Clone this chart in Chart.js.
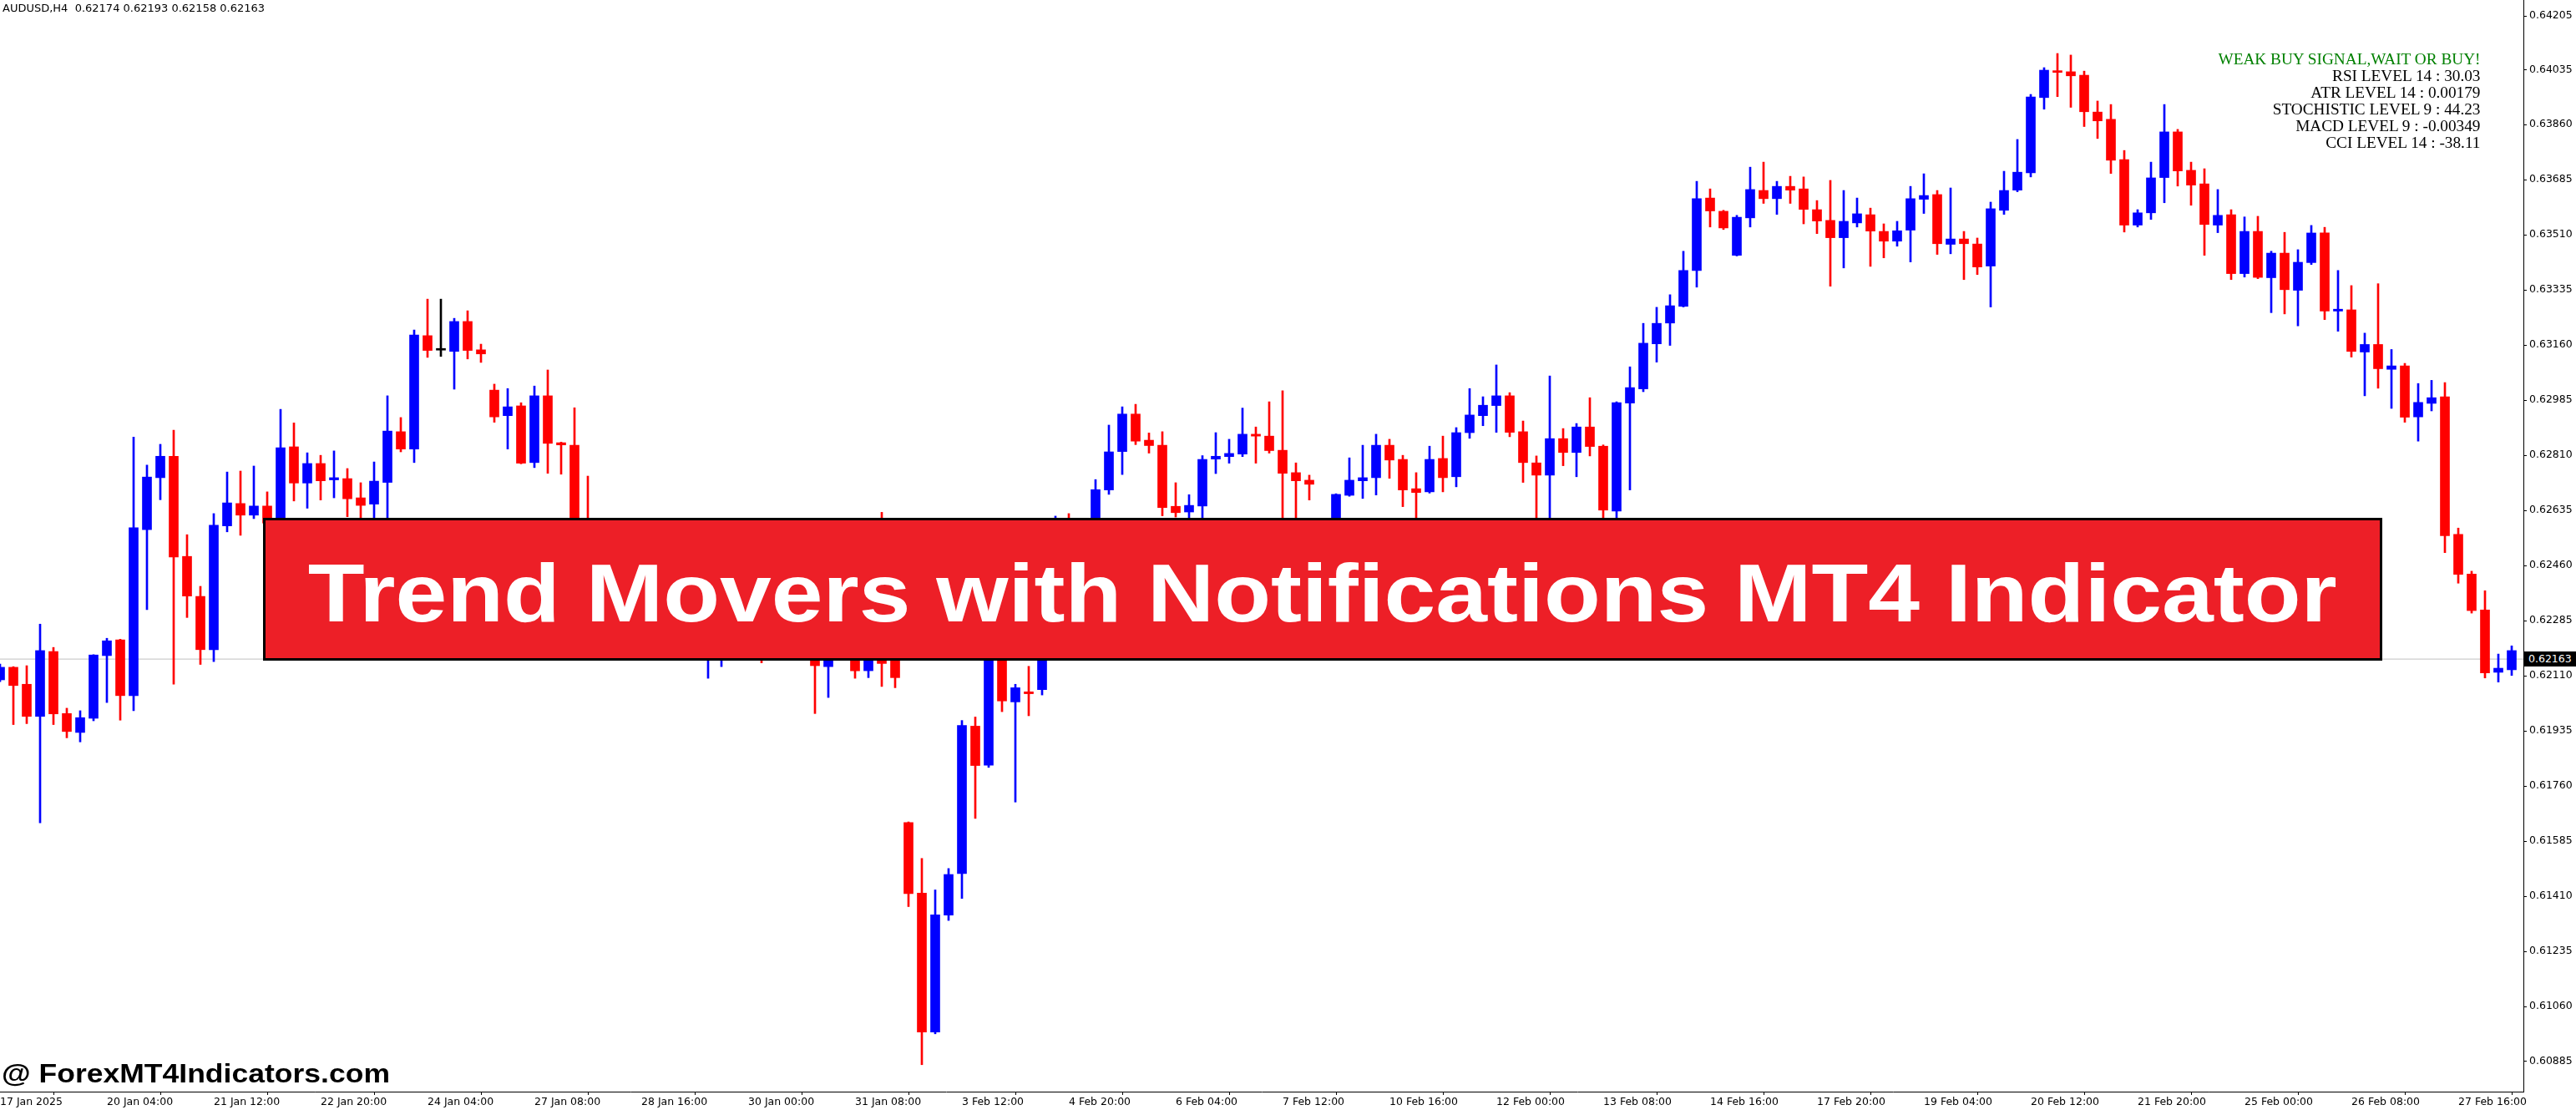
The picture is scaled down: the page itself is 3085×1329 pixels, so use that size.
<!DOCTYPE html>
<html>
<head>
<meta charset="utf-8">
<script src="https://cdn.jsdelivr.net/npm/chart.js@4.4.1/dist/chart.umd.min.js"></script>
<style>
html,body{margin:0;padding:0;background:#fff;overflow:hidden}
#wrap{position:relative;width:3085px;height:1329px;background:#fff}
#c{position:absolute;left:0;top:0}
#hdr{position:absolute;left:3px;top:2px;font:13px "DejaVu Sans";color:#000;white-space:pre;line-height:16px}
#ind{position:absolute;right:115px;top:61px;text-align:right;font-family:"Liberation Serif";font-size:18px;line-height:20px;color:#000;transform:scaleX(1.07);transform-origin:right top;white-space:pre}
#ind .g{color:#008000}
#banner{position:absolute;left:315px;top:620px;width:2538px;height:171px;box-sizing:border-box;border:3px solid #000;background:#ED1F27}
#btxt{position:absolute;left:315px;top:661px;width:2538px;text-align:center;line-height:98px;height:98px}
#btxt span{display:inline-block;font-family:"Liberation Sans";font-weight:bold;font-size:98px;color:#fff;white-space:pre;transform-origin:center center}
#wm{position:absolute;left:2px;top:1266px;line-height:40px;height:40px}
#wm span{display:inline-block;font-family:"Liberation Sans";font-weight:bold;font-size:31px;color:#000;white-space:pre;transform-origin:left center}
#pbox{position:absolute;left:3023px;width:62px;height:18px;background:#000;color:#fff;font:12.5px "DejaVu Sans";line-height:18px;padding-left:5px;box-sizing:border-box}
</style>
</head>
<body>
<div id="wrap">
<canvas id="c" width="3085" height="1329"></canvas>
<div id="hdr">AUDUSD,H4  0.62174 0.62193 0.62158 0.62163</div>
<div id="ind"><div class="g">WEAK BUY SIGNAL,WAIT OR BUY!</div><div>RSI LEVEL 14 : 30.03</div><div>ATR LEVEL 14 : 0.00179</div><div>STOCHISTIC LEVEL 9 : 44.23</div><div>MACD LEVEL 9 : -0.00349</div><div>CCI LEVEL 14 : -38.11</div></div>
<div id="banner"></div>
<div id="btxt"><span>Trend Movers with Notifications MT4 Indicator</span></div>
<div id="wm"><span>@ ForexMT4Indicators.com</span></div>
<div id="pbox">0.62163</div>
</div>
<script>
// ---- data (AUDUSD H4, one entry per bar) ----
const opens = [0.62097,0.62137,0.62083,0.61981,0.62187,0.61990,0.61930,0.61975,0.62174,0.62224,
0.62047,0.62574,0.62739,0.62807,0.62489,0.62362,0.62193,0.62586,0.62657,0.62620,
0.62649,0.62595,0.62837,0.62722,0.62784,0.62732,0.62736,0.62675,0.62655,0.62724,
0.62885,0.62830,0.63190,0.63144,0.63140,0.63235,0.63145,0.63017,0.62936,0.62967,
0.62787,0.62999,0.62850,0.62842,0.62520,0.62450,0.62500,0.62410,0.62340,0.62400,
0.62290,0.62330,0.62270,0.62220,0.62260,0.62350,0.62420,0.62380,0.62230,0.62300,
0.62370,0.62290,0.62139,0.62250,0.62380,0.62126,0.62260,0.62160,0.61644,0.61420,
0.60979,0.61350,0.61482,0.61950,0.61826,0.62220,0.62027,0.62059,0.62066,0.62350,
0.62520,0.62460,0.62530,0.62700,0.62822,0.62941,0.62858,0.62842,0.62648,0.62630,
0.62649,0.62798,0.62806,0.62814,0.62877,0.62871,0.62826,0.62755,0.62731,0.62580,
0.62520,0.62683,0.62729,0.62739,0.62842,0.62797,0.62704,0.62694,0.62800,0.62742,
0.62882,0.62936,0.62968,0.62999,0.62885,0.62786,0.62747,0.62863,0.62819,0.62900,
0.62839,0.62633,0.62976,0.63021,0.63164,0.63230,0.63283,0.63397,0.63627,0.63585,
0.63445,0.63564,0.63651,0.63625,0.63664,0.63656,0.63590,0.63556,0.63501,0.63548,
0.63574,0.63521,0.63490,0.63525,0.63623,0.63638,0.63480,0.63497,0.63481,0.63411,
0.63588,0.63652,0.63707,0.63946,0.64031,0.64028,0.64017,0.63900,0.63877,0.63749,
0.63541,0.63580,0.63692,0.63837,0.63715,0.63672,0.63541,0.63574,0.63387,0.63521,
0.63374,0.63452,0.63334,0.63422,0.63516,0.63268,0.63272,0.63138,0.63162,0.63083,
0.63094,0.62932,0.62975,0.62996,0.62559,0.62433,0.62319,0.62121,0.62129];
const highs = [0.62147,0.62139,0.62142,0.62274,0.62200,0.62007,0.61999,0.62177,0.62229,0.62226,
0.62868,0.62779,0.62845,0.62890,0.62558,0.62394,0.62625,0.62757,0.62760,0.62776,
0.62694,0.62956,0.62913,0.62818,0.62810,0.62824,0.62768,0.62723,0.62789,0.62999,
0.62930,0.63208,0.63306,0.63306,0.63245,0.63269,0.63163,0.63036,0.63022,0.62977,
0.63030,0.63081,0.62852,0.62961,0.62744,0.62540,0.62560,0.62470,0.62440,0.62450,
0.62360,0.62390,0.62320,0.62300,0.62380,0.62450,0.62520,0.62420,0.62330,0.62400,
0.62430,0.62320,0.62300,0.62420,0.62420,0.62300,0.62629,0.62250,0.61646,0.61530,
0.61430,0.61498,0.61968,0.61979,0.62250,0.62280,0.62083,0.62140,0.62400,0.62617,
0.62625,0.62560,0.62733,0.62906,0.62964,0.62972,0.62881,0.62885,0.62723,0.62685,
0.62809,0.62882,0.62861,0.62960,0.62900,0.62980,0.63015,0.62786,0.62747,0.62600,
0.62688,0.62802,0.62842,0.62877,0.62861,0.62810,0.62755,0.62839,0.62871,0.62898,
0.63022,0.62996,0.63097,0.63009,0.62919,0.62808,0.63062,0.62895,0.62911,0.62993,
0.62843,0.62980,0.63091,0.63229,0.63280,0.63320,0.63458,0.63680,0.63656,0.63588,
0.63572,0.63725,0.63741,0.63680,0.63696,0.63694,0.63619,0.63683,0.63651,0.63627,
0.63595,0.63545,0.63553,0.63664,0.63704,0.63651,0.63659,0.63521,0.63500,0.63614,
0.63712,0.63813,0.63956,0.64041,0.64086,0.64081,0.64030,0.63935,0.63924,0.63778,
0.63590,0.63741,0.63924,0.63845,0.63741,0.63720,0.63654,0.63590,0.63567,0.63569,
0.63458,0.63518,0.63463,0.63540,0.63534,0.63397,0.63349,0.63198,0.63355,0.63146,
0.63102,0.63038,0.63048,0.63041,0.62579,0.62442,0.62380,0.62179,0.62205];
const lows = [0.62091,0.61955,0.61958,0.61643,0.61955,0.61913,0.61900,0.61967,0.62025,0.61969,
0.61999,0.62320,0.62669,0.62083,0.62295,0.62146,0.62155,0.62567,0.62556,0.62609,
0.62560,0.62570,0.62665,0.62642,0.62668,0.62675,0.62615,0.62605,0.62600,0.62600,
0.62821,0.62787,0.63121,0.63124,0.63020,0.63116,0.63105,0.62915,0.62830,0.62783,
0.62771,0.62753,0.62750,0.62480,0.62400,0.62360,0.62380,0.62300,0.62280,0.62260,
0.62200,0.62240,0.62180,0.62102,0.62139,0.62300,0.62360,0.62151,0.62190,0.62250,
0.62260,0.61990,0.62041,0.62200,0.62102,0.62104,0.62076,0.62072,0.61377,0.60875,
0.60973,0.61333,0.61403,0.61657,0.61819,0.61996,0.61709,0.61983,0.62049,0.62300,
0.62420,0.62400,0.62500,0.62686,0.62749,0.62844,0.62817,0.62618,0.62614,0.62600,
0.62595,0.62752,0.62785,0.62806,0.62785,0.62817,0.62595,0.62590,0.62668,0.62470,
0.62500,0.62680,0.62673,0.62684,0.62737,0.62647,0.62590,0.62690,0.62694,0.62710,
0.62864,0.62904,0.62883,0.62869,0.62724,0.62590,0.62580,0.62777,0.62742,0.62808,
0.62590,0.62600,0.62700,0.63012,0.63106,0.63159,0.63281,0.63344,0.63535,0.63527,
0.63443,0.63535,0.63610,0.63575,0.63610,0.63545,0.63514,0.63347,0.63405,0.63535,
0.63410,0.63437,0.63474,0.63424,0.63578,0.63448,0.63450,0.63368,0.63384,0.63281,
0.63575,0.63647,0.63694,0.63909,0.63949,0.63915,0.63854,0.63816,0.63705,0.63519,
0.63535,0.63559,0.63612,0.63665,0.63604,0.63445,0.63517,0.63368,0.63376,0.63371,
0.63263,0.63259,0.63221,0.63416,0.63241,0.63204,0.63122,0.62999,0.63023,0.62959,
0.62915,0.62855,0.62951,0.62501,0.62404,0.62309,0.62103,0.62090,0.62111];
const closes = [0.62137,0.62079,0.61981,0.62190,0.61989,0.61933,0.61977,0.62176,0.62221,0.62047,
0.62580,0.62741,0.62807,0.62487,0.62363,0.62193,0.62588,0.62659,0.62620,0.62649,
0.62595,0.62834,0.62722,0.62784,0.62729,0.62739,0.62672,0.62651,0.62728,0.62887,
0.62830,0.63192,0.63143,0.63144,0.63235,0.63143,0.63132,0.62932,0.62964,0.62785,
0.62999,0.62848,0.62843,0.62520,0.62450,0.62500,0.62410,0.62340,0.62400,0.62290,
0.62330,0.62270,0.62220,0.62260,0.62350,0.62420,0.62380,0.62230,0.62300,0.62370,
0.62290,0.62142,0.62250,0.62380,0.62126,0.62260,0.62149,0.62104,0.61418,0.60979,
0.61351,0.61479,0.61952,0.61825,0.62220,0.62030,0.62072,0.62053,0.62350,0.62520,
0.62460,0.62530,0.62701,0.62821,0.62941,0.62855,0.62841,0.62644,0.62628,0.62651,
0.62797,0.62807,0.62816,0.62877,0.62871,0.62825,0.62753,0.62729,0.62718,0.62520,
0.62686,0.62731,0.62739,0.62842,0.62795,0.62700,0.62692,0.62797,0.62739,0.62882,
0.62938,0.62969,0.62999,0.62883,0.62787,0.62747,0.62863,0.62819,0.62900,0.62838,
0.62636,0.62977,0.63025,0.63166,0.63229,0.63285,0.63397,0.63625,0.63586,0.63532,
0.63566,0.63654,0.63625,0.63664,0.63652,0.63591,0.63554,0.63501,0.63553,0.63577,
0.63522,0.63490,0.63523,0.63625,0.63635,0.63482,0.63497,0.63482,0.63408,0.63593,
0.63651,0.63709,0.63948,0.64033,0.64026,0.64015,0.63901,0.63872,0.63747,0.63541,
0.63580,0.63691,0.63837,0.63713,0.63668,0.63543,0.63572,0.63387,0.63521,0.63375,
0.63452,0.63336,0.63423,0.63516,0.63268,0.63274,0.63140,0.63162,0.63085,0.63094,
0.62931,0.62978,0.62993,0.62555,0.62432,0.62317,0.62119,0.62134,0.62190];
// time-axis labels, one every 8 bars
const xLabels = ['17 Jan 2025','20 Jan 04:00','21 Jan 12:00','22 Jan 20:00','24 Jan 04:00','27 Jan 08:00',
'28 Jan 16:00','30 Jan 00:00','31 Jan 08:00','3 Feb 12:00','4 Feb 20:00','6 Feb 04:00','7 Feb 12:00',
'10 Feb 16:00','12 Feb 00:00','13 Feb 08:00','14 Feb 16:00','17 Feb 20:00','19 Feb 04:00','20 Feb 12:00',
'21 Feb 20:00','25 Feb 00:00','26 Feb 08:00','27 Feb 16:00'];
// price-axis labels
const yTicks = [0.64205,0.64035,0.63860,0.63685,0.63510,0.63335,0.63160,0.62985,0.62810,0.62635,
0.62460,0.62285,0.62110,0.61935,0.61760,0.61585,0.61410,0.61235,0.61060,0.60885];
const bidPrice = 0.62163;
const priceMin = 0.607895, priceMax = 0.642558;
const labelEvery = 8;

// ---- chart ----
const barIdx = opens.map((_, i) => i);
const colors = barIdx.map(i => closes[i] > opens[i] ? '#0000FF' : (closes[i] < opens[i] ? '#FF0000' : '#000000'));
const axisFont = {family: 'DejaVu Sans', size: 12.5};

const chart = new Chart(document.getElementById('c'), {
  type: 'bar',
  data: {
    datasets: [
      {label: 'body', data: barIdx.map(i => ({x: i, y: [opens[i], closes[i]]})), backgroundColor: colors,
       borderWidth: 0, barThickness: 11, minBarLength: 2, grouped: false, order: 1},
      {label: 'wick', data: barIdx.map(i => ({x: i, y: [lows[i], highs[i]]})), backgroundColor: colors,
       borderWidth: 0, barThickness: 2, grouped: false, order: 2},
      {type: 'line', label: 'bid', data: [{x: -5, y: bidPrice}, {x: opens.length + 5, y: bidPrice}],
       borderColor: '#C0C0C0', borderWidth: 1, pointRadius: 0, order: 3}
    ]
  },
  options: {
    responsive: false, animation: false, devicePixelRatio: 1,
    layout: {padding: 0},
    plugins: {legend: {display: false}, tooltip: {enabled: false}, title: {display: false}},
    scales: {
      x: {
        type: 'linear', min: 0, max: 3022 / 16, offset: false,
        grid: {drawOnChartArea: false, drawTicks: true, tickLength: 4, color: '#000', tickColor: '#000'},
        border: {display: true, color: '#000', width: 1},
        ticks: {autoSkip: false, maxRotation: 0, minRotation: 0, align: 'start', padding: 1,
                color: '#000', font: axisFont,
                callback: v => xLabels[Math.round(v / labelEvery)] || ''},
        afterBuildTicks: s => { s.ticks = xLabels.map((_, k) => ({value: k * labelEvery})); },
        afterFit: s => { s.height = 22; s.paddingLeft = 0; s.paddingRight = 0; }
      },
      y: {
        type: 'linear', position: 'right', min: priceMin, max: priceMax,
        grid: {drawOnChartArea: false, drawTicks: true, tickLength: 4, color: '#000', tickColor: '#000'},
        border: {display: true, color: '#000', width: 1},
        ticks: {autoSkip: false, padding: 3, color: '#000', font: axisFont, callback: v => v.toFixed(5)},
        afterBuildTicks: s => { s.ticks = yTicks.map(v => ({value: v})); },
        afterFit: s => { s.width = 63; s.paddingTop = 0; s.paddingBottom = 0; }
      }
    }
  }
});

// position overlays
const py = chart.scales.y.getPixelForValue(bidPrice);
const pbox = document.getElementById('pbox');
pbox.style.top = (py - 9) + 'px';
pbox.style.left = (chart.chartArea.right + 1) + 'px';

function fitWidth(span, target) {
  const w = span.getBoundingClientRect().width;
  if (w > 0) span.style.transform = 'scaleX(' + (target / w) + ')';
}
fitWidth(document.querySelector('#btxt span'), 2430);
fitWidth(document.querySelector('#wm span'), 465);
</script>
</body>
</html>
